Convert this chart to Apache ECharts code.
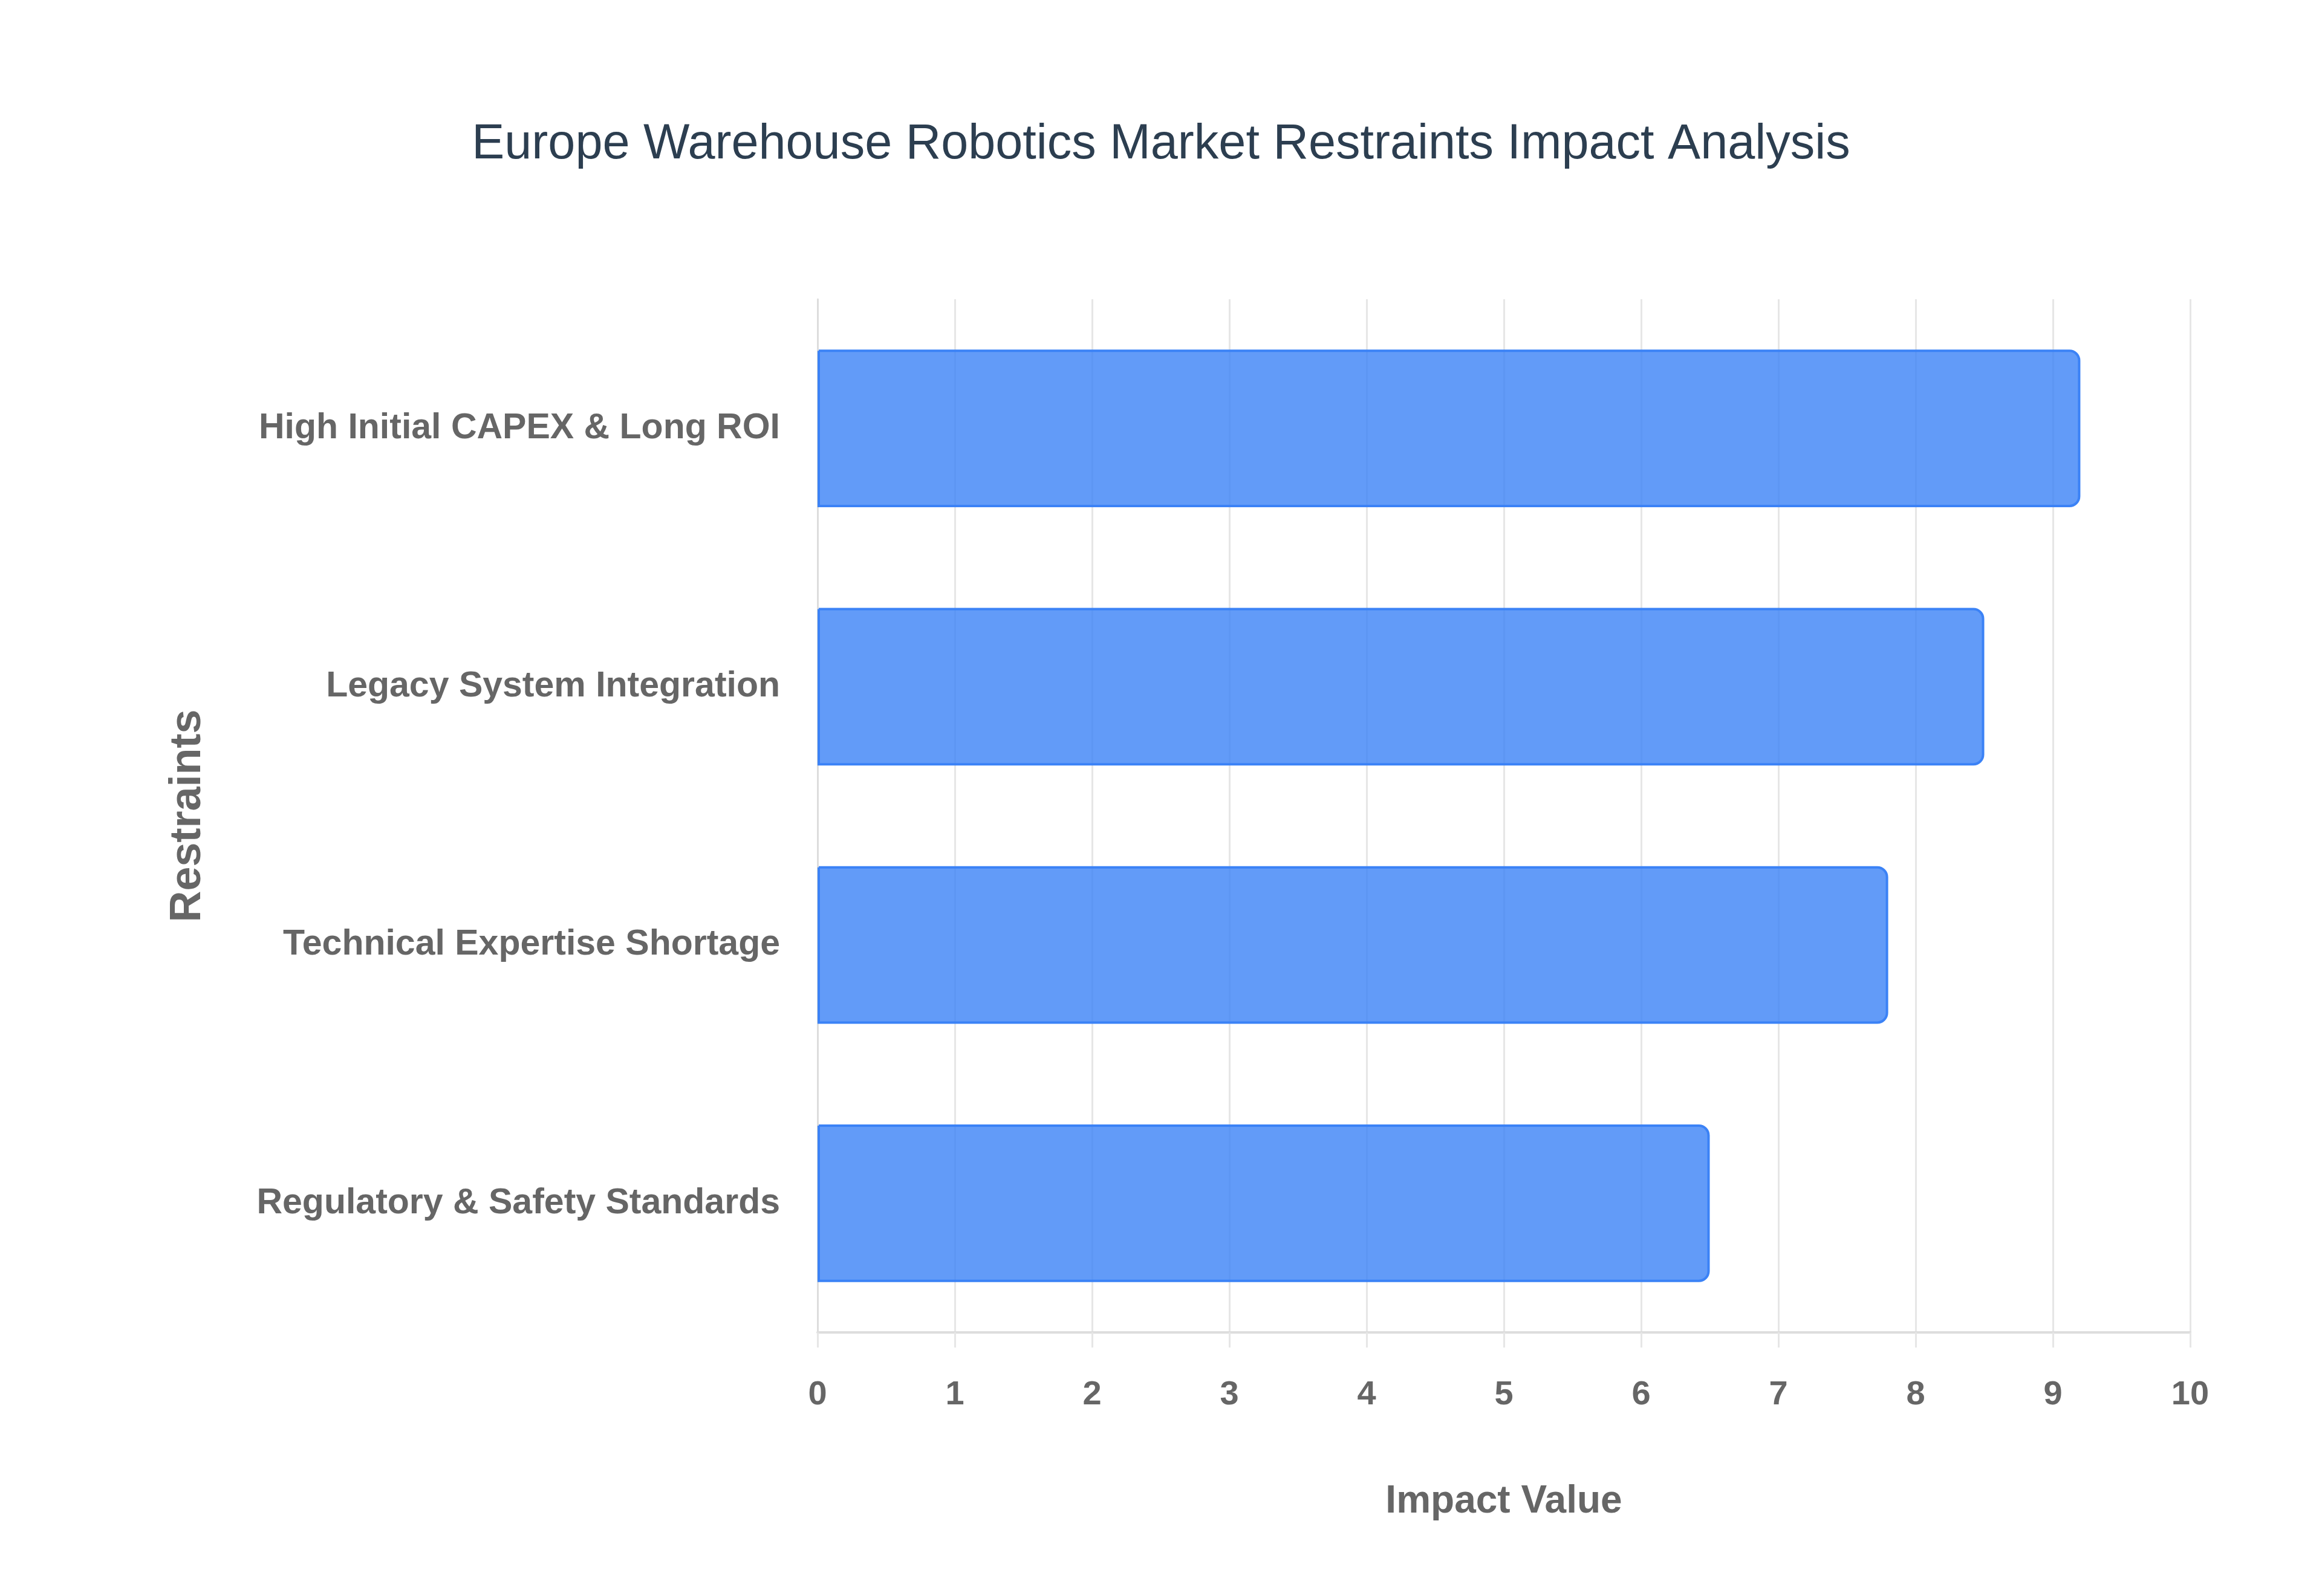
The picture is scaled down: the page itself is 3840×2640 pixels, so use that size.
<html>
<head>
  <meta charset="utf-8">
  <title>Restraints Impact</title>
  <script src="https://cdn.jsdelivr.net/npm/echarts@6/dist/echarts.min.js"></script>
  <style>
    html, body { margin: 0; padding: 0; background: #fff; }
  </style>
</head>
<body>
<div id="chartmain" style="width:3840px; height:2640px;"></div>
<script type="text/javascript">
  // data
  var restraints = [
    'High Initial CAPEX & Long ROI',
    'Legacy System Integration',
    'Technical Expertise Shortage',
    'Regulatory & Safety Standards'
  ];
  var impactValues = [9.2, 8.5, 7.8, 6.5];
  var xTicks = [0, 10, 1]; // min, max, step

  var grey = '#666666';
  var gridGrey = '#e6e6e6';

  var option = {
    backgroundColor: '#ffffff',
    title: {
      text: 'Europe Warehouse Robotics Market Restraints Impact Analysis',
      left: 'center',
      top: 194,
      textStyle: {
        fontFamily: 'Liberation Sans',
        fontSize: 81,
        fontWeight: 'normal',
        color: '#2c3e50'
      }
    },
    grid: {
      left: 1352,
      right: 218,
      top: 495,
      bottom: 436,
      containLabel: false
    },
    xAxis: {
      type: 'value',
      min: xTicks[0],
      max: xTicks[1],
      interval: xTicks[2],
      name: 'Impact Value',
      nameLocation: 'middle',
      nameGap: 248,
      nameTextStyle: {
        fontFamily: 'Liberation Sans',
        fontSize: 64,
        fontWeight: 'bold',
        color: grey
      },
      axisLine: { show: true, lineStyle: { color: '#dddddd', width: 4 } },
      axisTick: { show: true, length: 25, lineStyle: { color: gridGrey, width: 3 } },
      axisLabel: {
        margin: 76,
        fontFamily: 'Liberation Sans',
        fontSize: 56,
        fontWeight: 'bold',
        color: grey
      },
      splitLine: { show: true, lineStyle: { color: gridGrey, width: 3 } }
    },
    yAxis: {
      type: 'category',
      inverse: true,
      data: restraints,
      name: 'Restraints',
      nameLocation: 'middle',
      nameGap: 1005,
      nameTextStyle: {
        fontFamily: 'Liberation Sans',
        fontSize: 72,
        fontWeight: 'bold',
        color: grey
      },
      axisLine: { show: true, lineStyle: { color: '#dddddd', width: 3 } },
      axisTick: { show: false },
      axisLabel: {
        margin: 62,
        fontFamily: 'Liberation Sans',
        fontSize: 59,
        fontWeight: 'bold',
        color: grey
      },
      splitLine: { show: false }
    },
    series: [
      {
        name: 'Impact Value',
        type: 'bar',
        data: impactValues,
        barCategoryGap: '39%',
        itemStyle: {
          color: 'rgba(59,130,246,0.8)',
          borderColor: '#3b82f6',
          borderWidth: 4,
          borderRadius: [0, 16, 16, 0]
        }
      }
    ]
  };

  var myChart = echarts.init(document.getElementById('chartmain'));
  myChart.setOption(option);
</script>
</body>
</html>
